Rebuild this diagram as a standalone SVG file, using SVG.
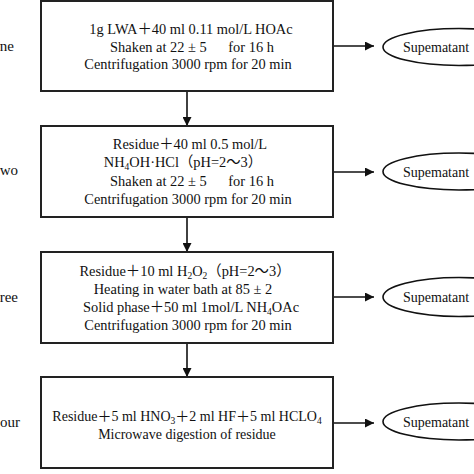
<svg xmlns="http://www.w3.org/2000/svg" width="474" height="474" viewBox="0 0 474 474">
<defs>
<marker id="ah" viewBox="0 0 10 10" refX="10" refY="5" markerWidth="9" markerHeight="9" markerUnits="userSpaceOnUse" orient="auto">
<path d="M0,0 L10,5 L0,10 z" fill="#111"/>
</marker>
<style>
.box{fill:#fff;stroke:#222;stroke-width:2}
.ell{fill:#fff;stroke:#111;stroke-width:1.6}
.t{font-family:"Liberation Serif","Noto Sans CJK SC",serif;font-size:14.4px;fill:#111;text-anchor:middle}
.s{font-family:"Liberation Serif",serif;font-size:14px;fill:#111}
.lbl{font-family:"Liberation Serif",serif;font-size:15px;fill:#111;text-anchor:end}
.c{stroke:#111;stroke-width:1.6;fill:none}
.sub{font-size:9.5px}
</style>
</defs>
<rect width="474" height="474" fill="#fff"/>

<g id="labels">
<text class="lbl" x="14" y="51">ne</text>
<text class="lbl" x="18" y="175">wo</text>
<text class="lbl" x="18" y="302">ree</text>
<text class="lbl" x="20" y="427">our</text>
</g>

<g id="connectors">
<line class="c" x1="187" y1="91" x2="187" y2="126" marker-end="url(#ah)"/>
<line class="c" x1="187" y1="217" x2="187" y2="252" marker-end="url(#ah)"/>
<line class="c" x1="187" y1="343" x2="187" y2="377" marker-end="url(#ah)"/>
<line class="c" x1="333" y1="46" x2="374" y2="46" marker-end="url(#ah)"/>
<line class="c" x1="333" y1="172" x2="374" y2="172" marker-end="url(#ah)"/>
<line class="c" x1="333" y1="297" x2="374" y2="297" marker-end="url(#ah)"/>
<line class="c" x1="333" y1="423" x2="374" y2="423" marker-end="url(#ah)"/>
</g>

<g id="step1">
<rect class="box" x="41" y="1" width="292" height="90"/>
<text class="t" x="191" y="34">1g LWA＋40 ml 0.11 mol/L HOAc</text>
<text class="t" x="192" y="52" xml:space="preserve">Shaken at 22 ± 5      for 16 h</text>
<text class="t" x="188" y="69">Centrifugation 3000 rpm for 20 min</text>
</g>

<g id="step2">
<rect class="box" x="41" y="126" width="292" height="91"/>
<text class="t" x="190" y="149">Residue＋40 ml 0.5 mol/L</text>
<text class="t" x="183" y="167">NH<tspan class="sub" dy="3">4</tspan><tspan dy="-3">OH·HCl（pH=2～3）</tspan></text>
<text class="t" x="192" y="186" xml:space="preserve">Shaken at 22 ± 5      for 16 h</text>
<text class="t" x="188" y="204">Centrifugation 3000 rpm for 20 min</text>
</g>

<g id="step3">
<rect class="box" x="41" y="252" width="292" height="91"/>
<text class="t" x="185" y="276">Residue＋10 ml H<tspan class="sub" dy="3">2</tspan><tspan dy="-3">O</tspan><tspan class="sub" dy="3">2</tspan><tspan dy="-3">（pH=2～3）</tspan></text>
<text class="t" x="183" y="294">Heating in water bath at 85 ± 2</text>
<text class="t" x="191" y="312">Solid phase＋50 ml 1mol/L NH<tspan class="sub" dy="3">4</tspan><tspan dy="-3">OAc</tspan></text>
<text class="t" x="188" y="330">Centrifugation 3000 rpm for 20 min</text>
</g>

<g id="step4">
<rect class="box" x="41" y="377" width="292" height="91"/>
<text class="t" x="187" y="421" style="font-size:14px">Residue＋5 ml HNO<tspan class="sub" dy="3">3</tspan><tspan dy="-3">＋2 ml HF＋5 ml HCLO</tspan><tspan class="sub" dy="3">4</tspan></text>
<text class="t" x="187" y="439" style="font-size:14px">Microwave digestion of residue</text>
</g>

<g id="sup1">
<ellipse class="ell" cx="459" cy="47" rx="76" ry="18.5"/>
<text class="s" x="403" y="52">Supematant</text>
</g>
<g id="sup2">
<ellipse class="ell" cx="459" cy="171.5" rx="76" ry="18.5"/>
<text class="s" x="403" y="177">Supematant</text>
</g>
<g id="sup3">
<ellipse class="ell" cx="459" cy="297" rx="76" ry="19.5"/>
<text class="s" x="403" y="302">Supematant</text>
</g>
<g id="sup4">
<ellipse class="ell" cx="459" cy="421.5" rx="76" ry="18.5"/>
<text class="s" x="403" y="427">Supematant</text>
</g>
</svg>
